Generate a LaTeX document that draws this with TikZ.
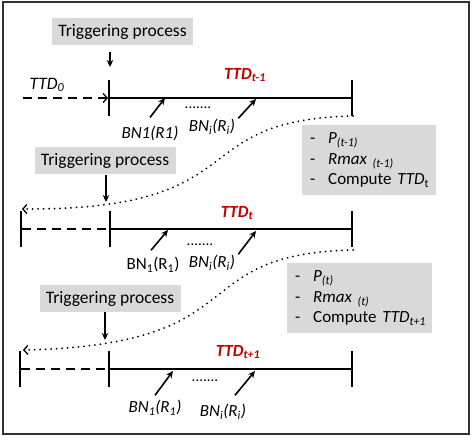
\documentclass[tikz,border=0pt]{standalone}
\usepackage{fontspec}
\setmainfont{Carlito}
\usetikzlibrary{arrows.meta, positioning}

\definecolor{ttdred}{RGB}{192,0,0}
\definecolor{boxgray}{RGB}{217,217,217}
\definecolor{framegray}{RGB}{50,50,50}

\begin{document}
\begin{tikzpicture}[
    x=1pt, y=-1pt,
    % Stili dei nodi
    trigger/.style={rectangle, fill=boxgray, minimum width=141pt, minimum height=27pt, inner sep=2pt, font=\fontsize{17.5}{20}\selectfont},
    note/.style={rectangle, fill=boxgray, anchor=north west, minimum height=70pt, inner xsep=8pt, inner ysep=2pt, align=left, font=\fontsize{17}{20.5}\selectfont},
    ttdlabel/.style={inner sep=1pt, text=ttdred, font=\fontsize{17}{19}\selectfont\bfseries\itshape},
    bnlabel/.style={inner sep=1pt, font=\fontsize{17}{19}\selectfont},
    gapdots/.style={inner sep=0pt, anchor=base, font=\fontsize{15}{18}\selectfont},
    % Stili delle linee
    timeline/.style={line width=2pt, {Bar[width=36pt]}-{Bar[width=36pt]}},
    dashline/.style={line width=2pt, dash pattern=on 9pt off 6pt},
    dotline/.style={line width=2pt, line cap=round, dash pattern=on 0pt off 5.5pt, -{Straight Barb[length=4pt, width=9pt, line width=1.3pt]}},
    arrow/.style={line width=1.6pt, -{Stealth[length=7pt, width=6.5pt]}},
    frame/.style={line width=1.6pt, draw=framegray}
]
    \useasboundingbox (0,0) rectangle (474,441);
    \draw [frame] (3,2) rectangle (469,434);

    % ==================== TTD t-1 ====================
    \node [trigger] (trig1) at (122.5,32) {Triggering process};
    \coordinate (ttd0s) at (23,98);
    \coordinate (mid1) at (108,98);
    \coordinate (end1) at (353,98);
    \coordinate (down1) at (110,67);

    \draw [arrow, shorten <=6pt] (trig1.south -| down1) -- (down1);
    \draw [dashline, -{Straight Barb[length=4pt, width=9pt, line width=1.3pt]}] (ttd0s) -- (mid1);
    \draw [timeline] (mid1) -- (end1);

    \node [bnlabel, font=\fontsize{17.5}{19}\selectfont\itshape] (ttd0) at (47,85) {TTD\textsubscript{0}};
    \node [ttdlabel] (ttd1) at (245,75) {TTD\textsubscript{t-1}};

    \node [bnlabel] (bn11) at (150,133) {\textit{BN1(R1)}};
    \node [bnlabel] (bn12) at (212,127) {\textit{BN\textsubscript{i}(R\textsubscript{i})}};
    \node [gapdots] (gap1) at (198,109) {.......};
    \coordinate (hit11) at (165,98);
    \coordinate (hit12) at (256,99);
    \draw [arrow] ([yshift=7pt]bn11.north) -- (hit11);
    \draw [arrow] ([xshift=2pt]bn12.north east) -- (hit12);

    \node [note, text width=118pt] (note1) at (302,125) {%
        \makebox[18pt][l]{-}\textit{P\textsubscript{(t-1)}}\\
        \makebox[18pt][l]{-}\textit{Rmax \textsubscript{(t-1)}}\\
        \makebox[18pt][l]{-}Compute~\textit{TTD}\textsubscript{t}};

    % Loopback verso TTD t
    \coordinate (loop1s) at (353,116);
    \coordinate (loop1e) at (22,209);
    \draw [dotline] (loop1s) .. controls (180,120) and (260,210) .. (loop1e);

    % ==================== TTD t ====================
    \node [trigger] (trig2) at (105,161) {Triggering process};
    \coordinate (start2) at (20,229);
    \coordinate (mid2) at (109,229);
    \coordinate (end2) at (353,229);
    \coordinate (down2) at (106,202);

    \draw [arrow] (trig2.south -| down2) -- (down2);
    \draw [dashline, {Bar[width=36pt]}-] (start2) -- (mid2);
    \draw [timeline] (mid2) -- (end2);

    \node [ttdlabel] (ttd2) at (237,213) {TTD\textsubscript{t}};

    \node [bnlabel] (bn21) at (153,265) {BN\textsubscript{1}(R\textsubscript{1})};
    \node [bnlabel] (bn22) at (212,263) {\textit{BN\textsubscript{i}(R\textsubscript{i})}};
    \node [gapdots] (gap2) at (200,245) {.......};
    \coordinate (hit21) at (168,230);
    \coordinate (hit22) at (256,231);
    \draw [arrow] ([yshift=6pt,xshift=-2pt]bn21.north) -- (hit21);
    \draw [arrow] ([xshift=2pt]bn22.north east) -- (hit22);

    \node [note, text width=129pt] (note2) at (287,263) {%
        \makebox[18pt][l]{-}\textit{P\textsubscript{(t)}}\\
        \makebox[18pt][l]{-}\textit{Rmax \textsubscript{(t)}}\\
        \makebox[18pt][l]{-}Compute~\textit{TTD\textsubscript{t+1}}};

    % Loopback verso TTD t+1
    \coordinate (loop2s) at (353,250);
    \coordinate (loop2e) at (23,350);
    \draw [dotline] (loop2s) .. controls (180,254) and (260,345) .. (loop2e);

    % ==================== TTD t+1 ====================
    \node [trigger] (trig3) at (110,298.5) {Triggering process};
    \coordinate (start3) at (19,369);
    \coordinate (mid3) at (108,369);
    \coordinate (end3) at (353,369);
    \coordinate (down3) at (105,340);

    \draw [arrow] (trig3.south -| down3) -- (down3);
    \draw [dashline, {Bar[width=36pt]}-] (start3) -- (mid3);
    \draw [timeline] (mid3) -- (end3);

    \node [ttdlabel] (ttd3) at (238,352) {TTD\textsubscript{t+1}};

    \node [bnlabel] (bn31) at (155,408) {\textit{BN\textsubscript{1}(R\textsubscript{1})}};
    \node [bnlabel] (bn32) at (223,412) {\textit{BN\textsubscript{i}(R\textsubscript{i})}};
    \node [gapdots] (gap3) at (205,381) {.......};
    \coordinate (hit31) at (173,371);
    \coordinate (hit32) at (255,371);
    \draw [arrow] ([yshift=4pt]bn31.north) -- (hit31);
    \draw [arrow] ([xshift=12pt,yshift=8pt]bn32.north) -- (hit32);

\end{tikzpicture}
\end{document}
